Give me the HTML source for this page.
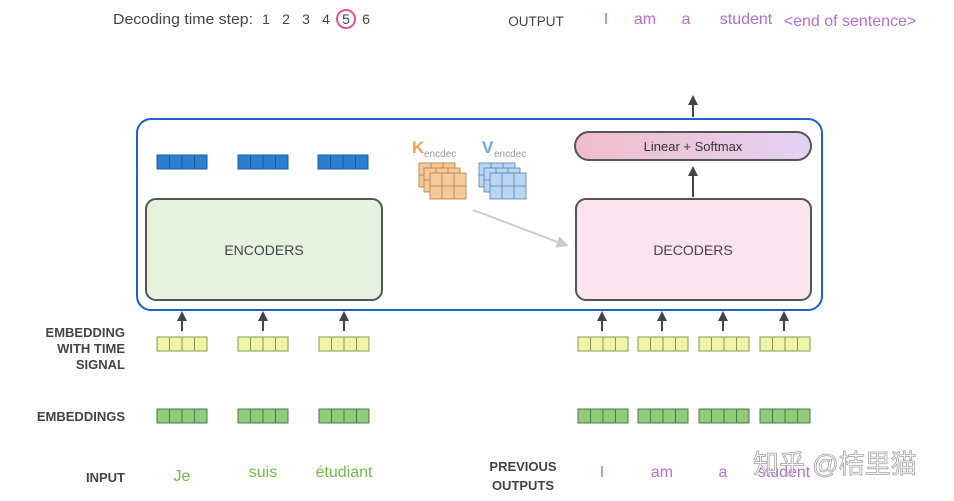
<!DOCTYPE html>
<html><head><meta charset="utf-8"><style>
html,body{margin:0;padding:0;background:#fff;}
svg{display:block;font-family:"Liberation Sans","Noto Sans CJK SC",sans-serif;}
</style></head><body>
<svg width="954" height="501" viewBox="0 0 954 501" xmlns="http://www.w3.org/2000/svg">
<defs>
<linearGradient id="ls" x1="0" x2="1"><stop offset="0" stop-color="#f2bccb"/><stop offset="1" stop-color="#e2d3f3"/></linearGradient>
<marker id="ah" viewBox="0 0 10 10" refX="5" refY="5" markerWidth="5" markerHeight="5" orient="auto"><path d="M0,0 L10,5 L0,10 z" fill="#444"/></marker>
<marker id="ag" viewBox="0 0 10 10" refX="5" refY="5" markerWidth="6" markerHeight="6" orient="auto"><path d="M0,0 L10,5 L0,10 z" fill="#ccc"/></marker>
<g id="c4"><rect x="0" y="0" width="50" height="14"/><path d="M12.5,0v14M25,0v14M37.5,0v14" fill="none"/></g>
</defs>
<text x="113" y="24" font-size="15" fill="#444" textLength="140" lengthAdjust="spacingAndGlyphs">Decoding time step:</text>
<g font-size="14" fill="#444" text-anchor="middle">
<text x="266" y="24">1</text><text x="286" y="24">2</text><text x="306" y="24">3</text><text x="326" y="24">4</text>
<text x="346" y="24">5</text><text x="366" y="24">6</text>
</g>
<circle cx="346" cy="19" r="9" fill="none" stroke="#e0559a" stroke-width="2"/>
<text x="536" y="26" font-size="13.5" fill="#444" text-anchor="middle">OUTPUT</text>
<g font-size="16" fill="#b56fd6" text-anchor="middle">
<text x="606" y="24">I</text><text x="645" y="24">am</text><text x="686" y="24">a</text><text x="746" y="24">student</text><text x="850" y="26">&lt;end of sentence&gt;</text>
</g>
<rect x="137" y="119" width="685" height="191" rx="14" fill="none" stroke="#1f5fd6" stroke-width="2"/>
<line x1="693" y1="117" x2="693" y2="100" stroke="#444" stroke-width="2" marker-end="url(#ah)"/>
<g fill="#2c7fd0" stroke="#1d5a99" stroke-width="1">
<use href="#c4" x="157" y="155"/><use href="#c4" x="238" y="155"/><use href="#c4" x="318" y="155"/>
</g>
<rect x="146" y="199" width="236" height="101" rx="10" fill="#e4f2de" stroke="#555" stroke-width="2"/>
<text x="264" y="255" font-size="14" fill="#444" text-anchor="middle">ENCODERS</text>
<text x="412" y="153" font-size="17" font-weight="bold" fill="#f0a050">K</text>
<text x="424" y="157" font-size="10" fill="#999">encdec</text>
<text x="482" y="153" font-size="17" font-weight="bold" fill="#6aa8e8">V</text>
<text x="494" y="157" font-size="10" fill="#999">encdec</text>
<g fill="#f6c99a" stroke="#b07a45" stroke-width="0.8">
<g transform="translate(419,163)"><rect width="36" height="24"/><path d="M12,0v24M24,0v24M0,12h36" fill="none"/></g>
<g transform="translate(424,168)"><rect width="36" height="24"/><path d="M12,0v24M24,0v24M0,12h36" fill="none"/></g>
<g transform="translate(430,173)"><rect width="36" height="26"/><path d="M12,0v26M24,0v26M0,13h36" fill="none"/></g>
</g>
<g fill="#b7d5f5" stroke="#5b7fa8" stroke-width="0.8">
<g transform="translate(479,163)"><rect width="36" height="24"/><path d="M12,0v24M24,0v24M0,12h36" fill="none"/></g>
<g transform="translate(484,168)"><rect width="36" height="24"/><path d="M12,0v24M24,0v24M0,12h36" fill="none"/></g>
<g transform="translate(490,173)"><rect width="36" height="26"/><path d="M12,0v26M24,0v26M0,13h36" fill="none"/></g>
</g>
<line x1="473" y1="210" x2="563" y2="244" stroke="#ccc" stroke-width="2" marker-end="url(#ag)"/>
<rect x="575" y="132" width="236" height="28" rx="14" fill="url(#ls)" stroke="#555" stroke-width="2"/>
<text x="693" y="151" font-size="13" fill="#333" text-anchor="middle">Linear + Softmax</text>
<line x1="693" y1="197" x2="693" y2="171" stroke="#444" stroke-width="2" marker-end="url(#ah)"/>
<rect x="576" y="199" width="235" height="101" rx="10" fill="#fbe3ef" stroke="#555" stroke-width="2"/>
<text x="693" y="255" font-size="14" fill="#444" text-anchor="middle">DECODERS</text>
<g stroke="#444" stroke-width="2" marker-end="url(#ah)">
<line x1="182" y1="331" x2="182" y2="316"/><line x1="263" y1="331" x2="263" y2="316"/><line x1="344" y1="331" x2="344" y2="316"/>
<line x1="602" y1="331" x2="602" y2="316"/><line x1="662" y1="331" x2="662" y2="316"/><line x1="723" y1="331" x2="723" y2="316"/><line x1="784" y1="331" x2="784" y2="316"/>
</g>
<g font-size="13" font-weight="bold" fill="#444" text-anchor="end">
<text x="125" y="337">EMBEDDING</text><text x="125" y="353">WITH TIME</text><text x="125" y="369">SIGNAL</text>
<text x="125" y="421">EMBEDDINGS</text>
<text x="125" y="482">INPUT</text>
</g>
<g font-size="13" font-weight="bold" fill="#444" text-anchor="middle">
<text x="523" y="471">PREVIOUS</text><text x="523" y="490">OUTPUTS</text>
</g>
<g fill="#eef4a8" stroke="#8a9a55" stroke-width="1">
<use href="#c4" x="157" y="337"/><use href="#c4" x="238" y="337"/><use href="#c4" x="319" y="337"/>
<use href="#c4" x="578" y="337"/><use href="#c4" x="638" y="337"/><use href="#c4" x="699" y="337"/><use href="#c4" x="760" y="337"/>
</g>
<g fill="#8ecb7c" stroke="#4d7a45" stroke-width="1">
<use href="#c4" x="157" y="409"/><use href="#c4" x="238" y="409"/><use href="#c4" x="319" y="409"/>
<use href="#c4" x="578" y="409"/><use href="#c4" x="638" y="409"/><use href="#c4" x="699" y="409"/><use href="#c4" x="760" y="409"/>
</g>
<g font-size="16" fill="#72b84a" text-anchor="middle">
<text x="182" y="481">Je</text><text x="263" y="477">suis</text><text x="344" y="477">étudiant</text>
</g>
<g font-size="16" fill="#b56fd6" text-anchor="middle">
<text x="602" y="477">I</text><text x="662" y="477">am</text><text x="723" y="477">a</text><text x="784" y="477">student</text>
</g>
<text x="753" y="473" font-size="26" fill="#fff" stroke="#999" stroke-width="0.8" opacity="0.9">知乎 @桔里猫</text>
</svg>
</body></html>
